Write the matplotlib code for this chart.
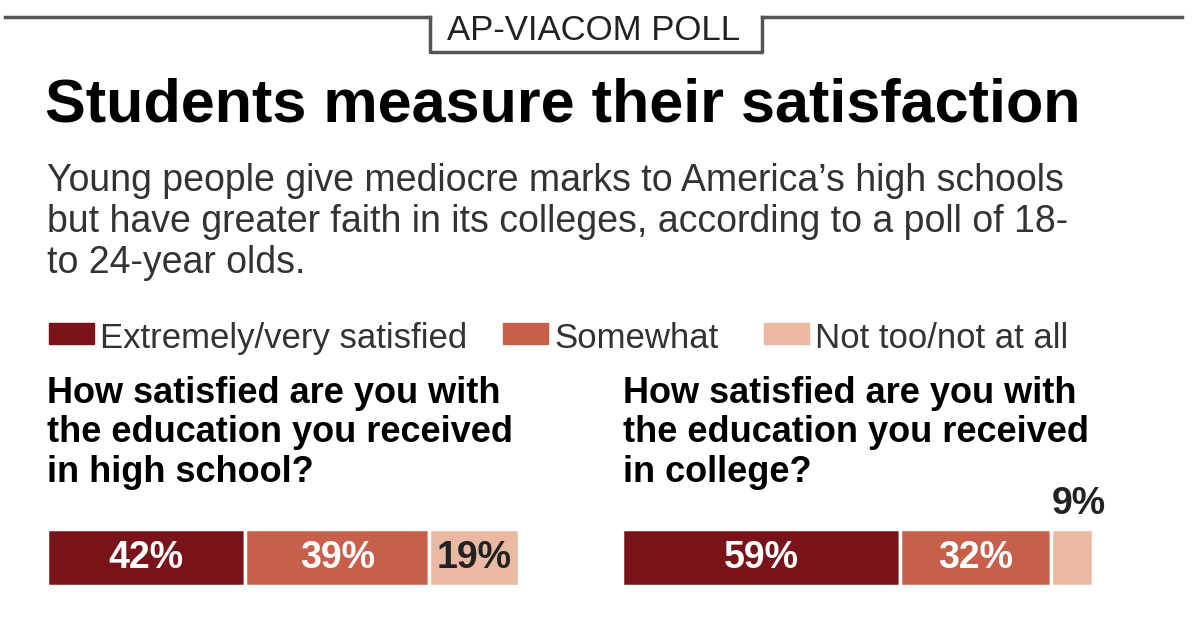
import matplotlib.pyplot as plt
from matplotlib.lines import Line2D

# data
categories = ["Extremely/very satisfied", "Somewhat", "Not too/not at all"]
high_school = [42, 39, 19]
college = [59, 32, 9]
colors = ["#7a1219", "#c85f4b", "#ebb9a2"]
label_colors = ["white", "white", "#222222"]

W, H = 1200, 630
fig = plt.figure(figsize=(W / 100, H / 100), dpi=100)
fig.patch.set_facecolor("white")

def fx(x):
    return x / W

def fy(y):
    return 1 - y / H

sans = ["Liberation Sans", "DejaVu Sans"]

# top rule with the tab box
rule = dict(color="#555555", lw=2.5, transform=fig.transFigure)
fig.add_artist(Line2D([fx(5), fx(430)], [fy(17), fy(17)], **rule))
fig.add_artist(Line2D([fx(762), fx(1182)], [fy(17), fy(17)], **rule))
fig.add_artist(Line2D([fx(430), fx(430), fx(762), fx(762)],
                      [fy(17), fy(52), fy(52), fy(17)], **rule))
fig.text(fx(594), fy(31), "AP-VIACOM POLL", family=sans, fontsize=25,
         ha="center", va="center", color="#222222")

fig.text(fx(45), fy(106), "Students measure their satisfaction", family=sans,
         fontweight="bold", fontsize=44, ha="left", va="center", color="black")

subtitle = ["Young people give mediocre marks to America\u2019s high schools",
            "but have greater faith in its colleges, according to a poll of 18-",
            "to 24-year olds."]
for i, line in enumerate(subtitle):
    fig.text(fx(47), fy(191 + 41 * i), line, family=sans, fontsize=27,
             ha="left", va="baseline", color="#333333")

# legend
leg_x = [49, 503, 764]
for x, c, lab in zip(leg_x, colors, categories):
    fig.add_artist(plt.Rectangle((fx(x), fy(344)), fx(45), 21 / H, color=c,
                                 transform=fig.transFigure))
    fig.text(fx(x + 51), fy(348), lab, family=sans, fontsize=25,
             ha="left", va="baseline", color="#333333")

questions = [["How satisfied are you with", "the education you received", "in high school?"],
             ["How satisfied are you with", "the education you received", "in college?"]]
q_x = [47, 623]
for x, q in zip(q_x, questions):
    for i, line in enumerate(q):
        fig.text(fx(x), fy(403 + 39.5 * i), line, family=sans, fontweight="bold",
                 fontsize=26, ha="left", va="baseline", color="black")

def stacked(ax, vals):
    left = 0
    for i, (v, c) in enumerate(zip(vals, colors)):
        ax.barh(0, v, left=left, height=1, color=c, edgecolor="white", linewidth=2.5)
        if v >= 15:
            ax.text(left + v / 2, 0, f"{v}%", ha="center", va="center",
                    family=sans, fontweight="bold", fontsize=27, color=label_colors[i])
        else:
            ax.text(left + v / 2 + 1.5, 0.62, f"{v}%", ha="center", va="bottom",
                    family=sans, fontweight="bold", fontsize=27, color="#222222")
        left += v
    ax.set_xlim(0, 100)
    ax.set_ylim(-0.5, 0.5)
    ax.axis("off")

ax1 = fig.add_axes([fx(47), fy(586), (519 - 47) / W, 57 / H])
stacked(ax1, high_school)
ax2 = fig.add_axes([fx(622), fy(586), (1093 - 622) / W, 57 / H])
stacked(ax2, college)

fig.savefig("out.png", dpi=100, facecolor="white")
